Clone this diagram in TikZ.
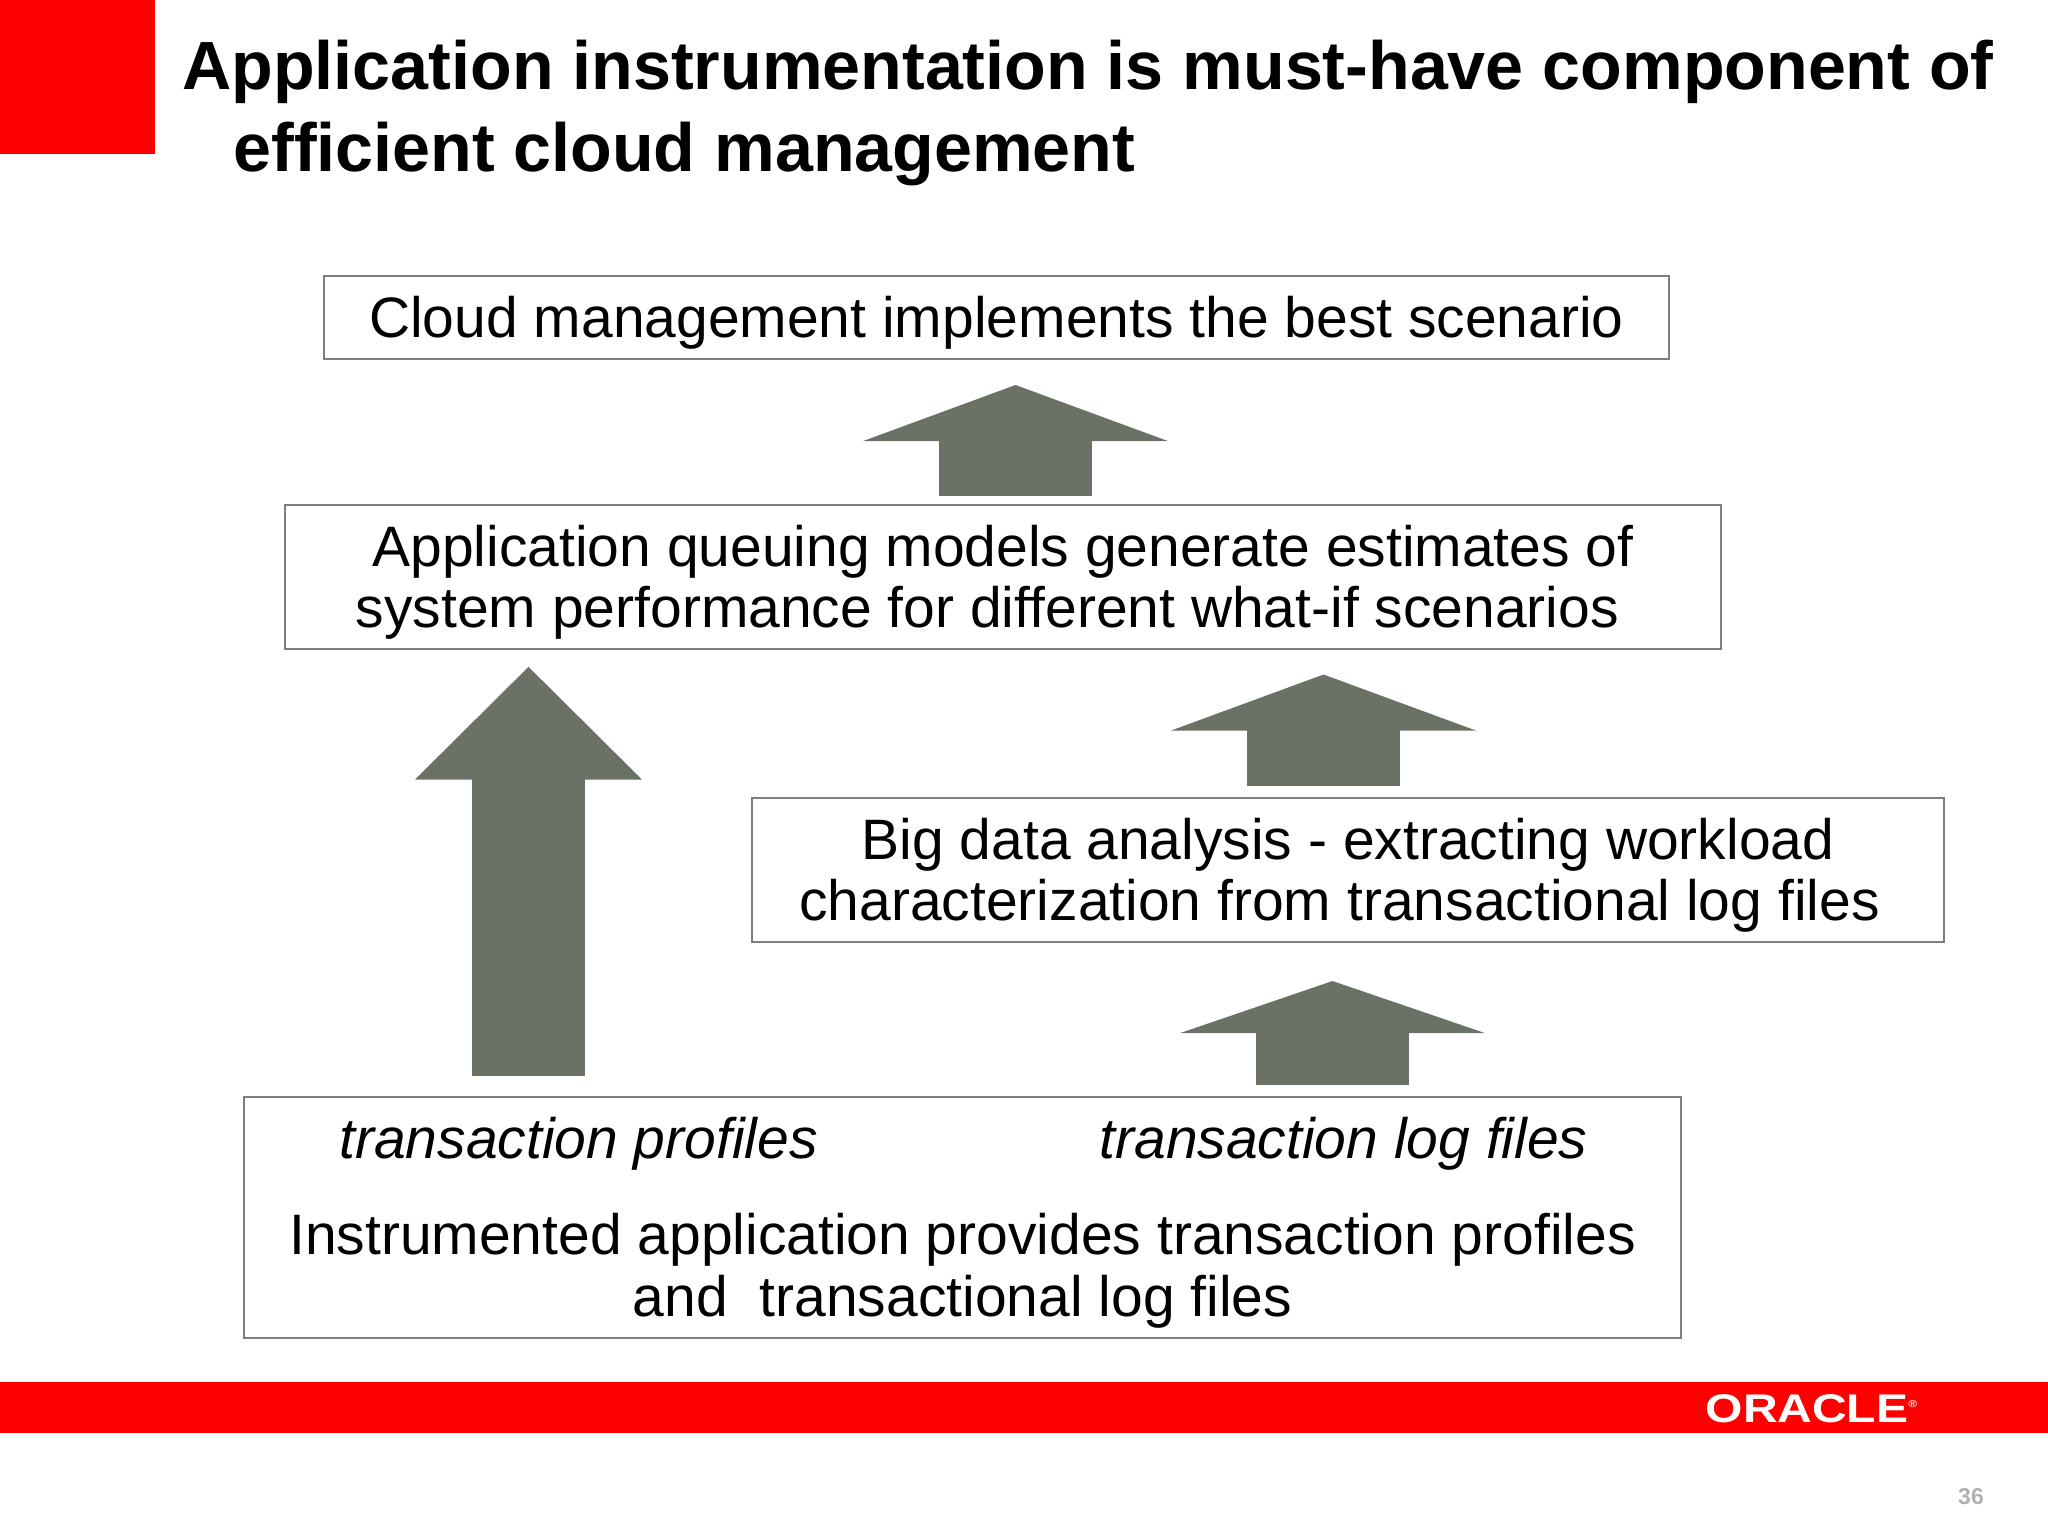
\documentclass[tikz,border=0pt]{standalone}
\usepackage{fontspec}
\setmainfont{Liberation Sans}
\usetikzlibrary{arrows.meta,positioning}
\definecolor{slide_red}{HTML}{FF0000}
\definecolor{arrow_gray}{HTML}{6A7165}
\definecolor{frame_gray}{HTML}{7F7F7F}
\definecolor{page_gray}{HTML}{B0B0B0}
\tikzset{
    level_box/.style={draw=frame_gray, line width=1pt, inner sep=0pt, align=center, text depth=0.7pt, font=\fontsize{28.5}{30.7}\selectfont},
    small_arrow/.style={draw=arrow_gray, line width=76.5pt, -{Triangle[length=28pt,width=151.5pt]}},
    tall_arrow/.style={draw=arrow_gray, line width=56.5pt, -{Triangle[length=56.5pt,width=110pt]}},
    source_label/.style={anchor=base, inner sep=0pt, font=\fontsize{28.5}{30.7}\selectfont\itshape}
}
\begin{document}
\begin{tikzpicture}[x=0.5pt, y=-0.5pt]
    \useasboundingbox (0,0) rectangle (2048,1536);
    \fill[slide_red] (0,0) rectangle (155,154);
    \fill[slide_red] (0,1382) rectangle (2048,1433);
    \node[anchor=north west, inner sep=0pt, align=left, font=\fontsize{34.1}{41}\selectfont\bfseries](slide_title) at (182,39.5) {Application instrumentation is must-have component of\\\hspace*{25.5pt}efficient cloud management};

    \node[level_box, minimum width=718.5pt, minimum height=120.5pt](instrumented_app) at (962.5,1217.5) {\mbox{}\\[38.1pt]Instrumented application provides transaction profiles\\and\ \ transactional log files};
    \node[level_box, above=76.35pt of instrumented_app, xshift=192.75pt, minimum width=596pt, minimum height=72.4pt](big_data) {Big data analysis - extracting workload\\characterization from transactional log files\hspace*{8.5pt}};
    \node[level_box, above=73.35pt of big_data, xshift=-172.5pt, minimum width=718pt, minimum height=71.9pt](queuing_models) {Application queuing models generate estimates of\\system performance for different what-if scenarios\hspace*{15.7pt}};
    \node[level_box, above=71.85pt of queuing_models, xshift=-3.25pt, minimum width=672.5pt, minimum height=41.5pt](cloud_mgmt) {Cloud management implements the best scenario};

    \node[source_label](transaction_profiles) at (578.5,1158) {transaction profiles};
    \node[source_label](transaction_logs) at (1343.5,1158) {transaction log files};

    \draw[small_arrow, -{Triangle[length=26pt,width=151.5pt]}, shorten <=5.35pt, shorten >=18.85pt] (instrumented_app.north -| 1332.5,0) -- (big_data.south -| 1332.5,0);
    \draw[small_arrow, shorten <=5.5pt, shorten >=12.35pt] (big_data.north -| 1323.5,0) -- (queuing_models.south -| 1323.5,0);
    \draw[small_arrow, shorten <=4pt, shorten >=12.35pt] (queuing_models.north -| 1015.5,0) -- (cloud_mgmt.south -| 1015.5,0);
    \draw[tall_arrow, shorten <=10pt, shorten >=8.35pt] (instrumented_app.north -| 528.5,0) -- (queuing_models.south -| 528.5,0);

    \node[white, xscale=1.2, inner sep=0pt, font=\fontsize{20}{22}\selectfont\bfseries](oracle_logo) at (1812,1408.5) {ORACLE\textsuperscript{\tiny ®}};
    \node[page_gray, inner sep=0pt, font=\fontsize{11.5}{13}\selectfont\bfseries](page_number) at (1971,1497) {36};
\end{tikzpicture}
\end{document}
